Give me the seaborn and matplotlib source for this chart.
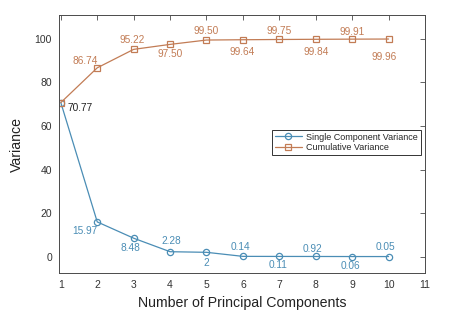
import matplotlib
matplotlib.use("Agg")
import matplotlib.pyplot as plt
import seaborn as sns
import pandas as pd

components = [1, 2, 3, 4, 5, 6, 7, 8, 9, 10]
single_var = [70.77, 15.97, 8.48, 2.28, 2.0, 0.14, 0.11, 0.09, 0.06, 0.05]
cumulative_var = [70.77, 86.74, 95.22, 97.50, 99.50, 99.64, 99.75, 99.84, 99.91, 99.96]
single_labels = ["", "15.97", "8.48", "2.28", "2", "0.14", "0.11", "0.92", "0.06", "0.05"]
cumulative_labels = ["70.77", "86.74", "95.22", "97.50", "99.50", "99.64", "99.75", "99.84", "99.91", "99.96"]
x_ticks = [1, 2, 3, 4, 5, 6, 7, 8, 9, 10, 11]
y_ticks = [0, 20, 40, 60, 80, 100]

# label offsets in pixels (style)
single_off = [(0, 0), (-12, -9), (-3, -10), (1, 11), (0, -11), (-2, 9.5), (-1, -9), (-3, 7), (-2, -9), (-3, 10)]
cum_off = [(19, -5), (-12, 7), (-2, 9), (0, -10), (0, 9), (-1, -12), (0, 8.5), (0, -13), (0, 7), (-4, -18)]

sns.set_style("white")
plt.rcParams["font.family"] = ["Liberation Sans", "DejaVu Sans"]

blue = "#4a8db5"
orange = "#c27c55"
axcol = "#4a4a4a"

df = pd.DataFrame({"comp": components, "single": single_var, "cum": cumulative_var})

fig = plt.figure(figsize=(4.74, 3.21), dpi=100)
ax = fig.add_axes([59 / 474, 1 - 273 / 321, 366 / 474, 258 / 321])

sns.lineplot(data=df, x="comp", y="single", ax=ax, color=blue, marker="o",
             markerfacecolor="none", markeredgecolor=blue, markersize=4.5,
             markeredgewidth=0.9, linewidth=0.9, label="Single Component Variance")
sns.lineplot(data=df, x="comp", y="cum", ax=ax, color=orange, marker="s",
             markerfacecolor="none", markeredgecolor=orange, markersize=4,
             markeredgewidth=0.9, linewidth=0.9, label="Cumulative Variance")

for xi, yi, t, o in zip(components, single_var, single_labels, single_off):
    if t:
        ax.annotate(t, (xi, yi), xytext=o, textcoords="offset pixels",
                    ha="center", va="center", fontsize=7.3, color=blue)
for i, (xi, yi, t, o) in enumerate(zip(components, cumulative_var, cumulative_labels, cum_off)):
    ax.annotate(t, (xi, yi), xytext=o, textcoords="offset pixels",
                ha="center", va="center", fontsize=7.3,
                color=("#222222" if i == 0 else orange))

ax.set_xlim(0.95, 11)
ax.set_ylim(-7.5, 111)
ax.set_xticks(x_ticks)
ax.set_yticks(y_ticks)
ax.set_xlabel("Number of Principal Components", fontsize=10.2, color="#222222", labelpad=4)
ax.set_ylabel("Variance", fontsize=10.2, color="#222222", labelpad=8)
ax.tick_params(direction="in", length=3.5, width=0.6, colors=axcol, labelsize=7.5,
               top=True, right=True, labelcolor="#333333", pad=5)
for s in ax.spines.values():
    s.set_color(axcol)
    s.set_linewidth(0.7)

leg = ax.legend(loc="upper right", bbox_to_anchor=(0.988, 0.555), borderaxespad=0,
                fontsize=6.5, frameon=True, fancybox=False, framealpha=1,
                edgecolor="#333333", handlelength=3, borderpad=0.3,
                labelspacing=0.2, handletextpad=0.5)
leg.get_frame().set_linewidth(0.7)

fig.savefig("out.png", dpi=100)
